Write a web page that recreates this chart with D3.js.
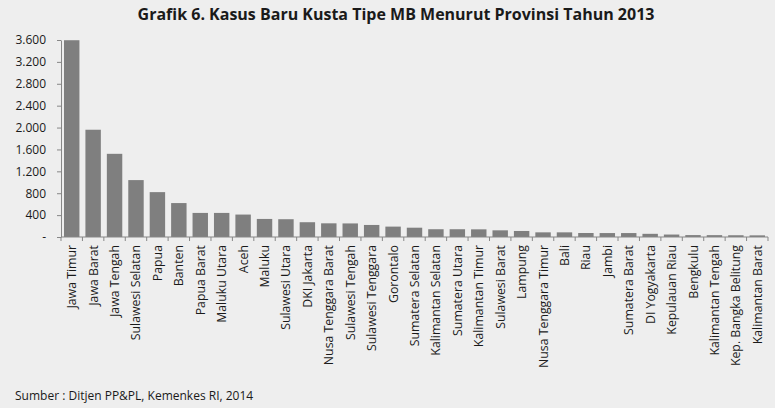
<!DOCTYPE html>
<html>
<head>
<meta charset="utf-8">
<script src="https://cdn.jsdelivr.net/npm/d3@7"></script>
<style>
  html, body { margin: 0; padding: 0; background: #eeeeee; }
  svg { display: block; }
  text { font-family: "Open Sans", sans-serif; fill: #1a1a1a; }
</style>
</head>
<body>
<div id="chart"></div>
<script>
// Data
const provinces = [
    "Jawa Timur", "Jawa Barat", "Jawa Tengah", "Sulawesi Selatan", "Papua",
    "Banten", "Papua Barat", "Maluku Utara", "Aceh", "Maluku",
    "Sulawesi Utara", "DKI Jakarta", "Nusa Tenggara Barat", "Sulawesi Tengah",
    "Sulawesi Tenggara", "Gorontalo", "Sumatera Selatan", "Kalimantan Selatan",
    "Sumatera Utara", "Kalimantan Timur", "Sulawesi Barat", "Lampung",
    "Nusa Tenggara Timur", "Bali", "Riau", "Jambi", "Sumatera Barat",
    "DI Yogyakarta", "Kepulauan Riau", "Bengkulu", "Kalimantan Tengah",
    "Kep. Bangka Belitung", "Kalimantan Barat"
];
const cases = [
    3596, 1960, 1520, 1040, 820,
    620, 440, 440, 410, 330,
    325, 270, 250, 248,
    220, 190, 170, 142,
    142, 140, 122, 110,
    85, 85, 73, 72, 72,
    58, 45, 35, 34,
    32, 30
];
const yTicks = [0, 400, 800, 1200, 1600, 2000, 2400, 2800, 3200, 3600];

const width = 775, height = 408;
const m = { left: 61, right: 768, top: 40, bottom: 237 };

const svg = d3.select("#chart")
    .append("svg")
    .attr("width", width)
    .attr("height", height);

svg.append("rect")
    .attr("width", width)
    .attr("height", height)
    .attr("fill", "#eeeeee");

// Scales
const x = d3.scaleBand()
    .domain(provinces)
    .range([m.left, m.right])
    .paddingInner(0.28)
    .paddingOuter(0.14);

const y = d3.scaleLinear()
    .domain([0, 3600])
    .range([m.bottom, m.top]);

const fmt = d => d === 0 ? "-" : d3.format(",")(d).replace(/,/g, ".");
const axisColor = "#878787";

// Title
svg.append("text")
    .attr("x", 396)
    .attr("y", 20)
    .attr("text-anchor", "middle")
    .style("font-size", "16px")
    .style("font-weight", "bold")
    .text("Grafik 6. Kasus Baru Kusta Tipe MB Menurut Provinsi Tahun 2013");

// Bars
svg.selectAll(".bar")
    .data(cases)
    .enter()
    .append("rect")
    .attr("class", "bar")
    .attr("x", (d, i) => x(provinces[i]))
    .attr("y", d => y(d))
    .attr("width", x.bandwidth())
    .attr("height", d => y(0) - y(d))
    .attr("fill", "#7f7f7f");

// Y axis
const yAxis = svg.append("g")
    .attr("transform", `translate(${m.left},0)`)
    .call(d3.axisLeft(y).tickValues(yTicks).tickFormat(fmt).tickSizeInner(4).tickSizeOuter(0).tickPadding(11));
yAxis.select(".domain").attr("stroke", axisColor);
yAxis.selectAll(".tick line").attr("stroke", axisColor);
yAxis.selectAll("text")
    .style("font-size", "12px")
    .style("font-family", "'Open Sans', sans-serif")
    .attr("fill", "#1a1a1a");

// X axis baseline and ticks between categories
const step = x.step();
svg.append("line")
    .attr("x1", m.left).attr("x2", m.right)
    .attr("y1", y(0)).attr("y2", y(0))
    .attr("stroke", axisColor);

svg.selectAll(".xtick")
    .data(d3.range(provinces.length + 1))
    .enter()
    .append("line")
    .attr("class", "xtick")
    .attr("x1", i => m.left + i * step)
    .attr("x2", i => m.left + i * step)
    .attr("y1", y(0))
    .attr("y2", y(0) + 4)
    .attr("stroke", axisColor);

// X labels rotated
svg.selectAll(".xlabel")
    .data(provinces)
    .enter()
    .append("text")
    .attr("class", "xlabel")
    .attr("transform", d => `translate(${x(d) + x.bandwidth() / 2 + 4.5},245) rotate(-90)`)
    .attr("text-anchor", "end")
    .style("font-size", "12.3px")
    .text(d => d);

// Source
svg.append("text")
    .attr("x", 15)
    .attr("y", 400)
    .style("font-size", "12px")
    .text("Sumber : Ditjen PP&PL, Kemenkes RI, 2014");
</script>
</body>
</html>
